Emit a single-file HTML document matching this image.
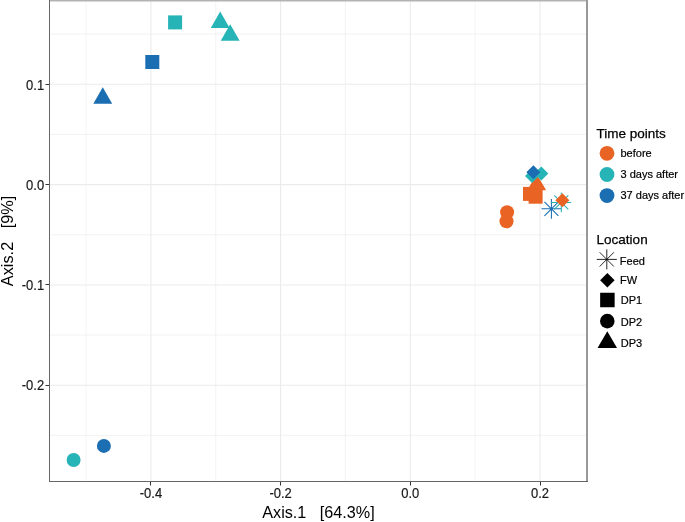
<!DOCTYPE html>
<html><head><meta charset="utf-8"><title>PCoA plot</title>
<style>
html,body{margin:0;padding:0;background:#fff;}
body{width:685px;height:522px;overflow:hidden;}
svg{display:block;}
svg text{font-family:"Liberation Sans",Arial,sans-serif;}
</style></head>
<body>
<svg width="685" height="522" viewBox="0 0 685 522">
<rect x="0" y="0" width="685" height="522" fill="#fff"/>
<line x1="86.05" y1="0.5" x2="86.05" y2="481" stroke="#ebebeb" stroke-width="0.6"/>
<line x1="215.75" y1="0.5" x2="215.75" y2="481" stroke="#ebebeb" stroke-width="0.6"/>
<line x1="345.45" y1="0.5" x2="345.45" y2="481" stroke="#ebebeb" stroke-width="0.6"/>
<line x1="475.15" y1="0.5" x2="475.15" y2="481" stroke="#ebebeb" stroke-width="0.6"/>
<line x1="49" y1="34.11" x2="587" y2="34.11" stroke="#ebebeb" stroke-width="0.6"/>
<line x1="49" y1="134.44" x2="587" y2="134.44" stroke="#ebebeb" stroke-width="0.6"/>
<line x1="49" y1="234.76" x2="587" y2="234.76" stroke="#ebebeb" stroke-width="0.6"/>
<line x1="49" y1="335.09" x2="587" y2="335.09" stroke="#ebebeb" stroke-width="0.6"/>
<line x1="49" y1="435.42" x2="587" y2="435.42" stroke="#ebebeb" stroke-width="0.6"/>
<line x1="150.9" y1="0.5" x2="150.9" y2="481" stroke="#ebebeb" stroke-width="1.1"/>
<line x1="280.6" y1="0.5" x2="280.6" y2="481" stroke="#ebebeb" stroke-width="1.1"/>
<line x1="410.3" y1="0.5" x2="410.3" y2="481" stroke="#ebebeb" stroke-width="1.1"/>
<line x1="540" y1="0.5" x2="540" y2="481" stroke="#ebebeb" stroke-width="1.1"/>
<line x1="49" y1="84.27" x2="587" y2="84.27" stroke="#ebebeb" stroke-width="1.1"/>
<line x1="49" y1="184.6" x2="587" y2="184.6" stroke="#ebebeb" stroke-width="1.1"/>
<line x1="49" y1="284.93" x2="587" y2="284.93" stroke="#ebebeb" stroke-width="1.1"/>
<line x1="49" y1="385.26" x2="587" y2="385.26" stroke="#ebebeb" stroke-width="1.1"/>
<rect x="168.1" y="15.4" width="14" height="14" fill="rgb(38,180,182)"/>
<polygon points="220.2,11.61 229.63,27.94 210.77,27.94" fill="rgb(38,180,182)"/>
<polygon points="230.2,24.31 239.63,40.64 220.77,40.64" fill="rgb(38,180,182)"/>
<circle cx="73.6" cy="460" r="7" fill="rgb(38,180,182)"/>
<rect x="145.3" y="55" width="14" height="14" fill="rgb(27,110,178)"/>
<polygon points="102.75,87.31 112.18,103.64 93.32,103.64" fill="rgb(27,110,178)"/>
<circle cx="103.9" cy="445.9" r="7" fill="rgb(27,110,178)"/>
<circle cx="507.1" cy="212.2" r="7" fill="rgb(233,100,36)"/>
<circle cx="506.5" cy="221.3" r="7" fill="rgb(233,100,36)"/>
<polygon points="536.7,173.91 546.13,190.24 527.27,190.24" fill="rgb(233,100,36)"/>
<rect x="523" y="186.9" width="14" height="14" fill="rgb(233,100,36)"/>
<rect x="528.6" y="189.7" width="14" height="14" fill="rgb(233,100,36)"/>
<polygon points="541.3,166.4 548.3,173.4 541.3,180.4 534.3,173.4" fill="rgb(38,180,182)"/>
<polygon points="532,169 539,176 532,183 525,176" fill="rgb(38,180,182)"/>
<polygon points="533.4,165.3 540.4,172.3 533.4,179.3 526.4,172.3" fill="rgb(27,110,178)"/>
<path d="M544.4,201.8L558.4,215.8M544.4,215.8L558.4,201.8M541.5,208.8L561.3,208.8M551.4,198.9L551.4,218.7" stroke="rgb(27,110,178)" stroke-width="1.05" fill="none"/>
<path d="M554.3,195.4L568.3,209.4M554.3,209.4L568.3,195.4M551.4,202.4L571.2,202.4M561.3,192.5L561.3,212.3" stroke="rgb(38,180,182)" stroke-width="1.05" fill="none"/>
<polygon points="562.4,193.3 569.4,200.3 562.4,207.3 555.4,200.3" fill="rgb(233,100,36)"/>
<line x1="49" y1="0.75" x2="588" y2="0.75" stroke="#b3b3b3" stroke-width="1.5"/>
<line x1="587" y1="0" x2="587" y2="482" stroke="#999" stroke-width="2"/>
<line x1="49.5" y1="0" x2="49.5" y2="481.5" stroke="#666" stroke-width="1"/>
<line x1="49" y1="481.5" x2="588" y2="481.5" stroke="#666" stroke-width="1"/>
<line x1="150.5" y1="482" x2="150.5" y2="485.5" stroke="#333" stroke-width="1"/>
<line x1="280.5" y1="482" x2="280.5" y2="485.5" stroke="#333" stroke-width="1"/>
<line x1="410.5" y1="482" x2="410.5" y2="485.5" stroke="#333" stroke-width="1"/>
<line x1="540.5" y1="482" x2="540.5" y2="485.5" stroke="#333" stroke-width="1"/>
<line x1="45.5" y1="84.5" x2="49" y2="84.5" stroke="#333" stroke-width="1"/>
<line x1="45.5" y1="184.5" x2="49" y2="184.5" stroke="#333" stroke-width="1"/>
<line x1="45.5" y1="284.5" x2="49" y2="284.5" stroke="#333" stroke-width="1"/>
<line x1="45.5" y1="385.5" x2="49" y2="385.5" stroke="#333" stroke-width="1"/>
<text transform="translate(150.9,498) scale(0.93,1.0)" text-anchor="middle" font-size="14" fill="#1a1a1a" stroke="#1a1a1a" stroke-width="0.2">-0.4</text>
<text transform="translate(280.6,498) scale(0.93,1.0)" text-anchor="middle" font-size="14" fill="#1a1a1a" stroke="#1a1a1a" stroke-width="0.2">-0.2</text>
<text transform="translate(410.3,498) scale(0.93,1.0)" text-anchor="middle" font-size="14" fill="#1a1a1a" stroke="#1a1a1a" stroke-width="0.2">0.0</text>
<text transform="translate(540,498) scale(0.93,1.0)" text-anchor="middle" font-size="14" fill="#1a1a1a" stroke="#1a1a1a" stroke-width="0.2">0.2</text>
<text transform="translate(44.2,90) scale(0.93,1.0)" text-anchor="end" font-size="14" fill="#1a1a1a" stroke="#1a1a1a" stroke-width="0.2">0.1</text>
<text transform="translate(44.2,190) scale(0.93,1.0)" text-anchor="end" font-size="14" fill="#1a1a1a" stroke="#1a1a1a" stroke-width="0.2">0.0</text>
<text transform="translate(44.2,290) scale(0.93,1.0)" text-anchor="end" font-size="14" fill="#1a1a1a" stroke="#1a1a1a" stroke-width="0.2">-0.1</text>
<text transform="translate(44.2,390) scale(0.93,1.0)" text-anchor="end" font-size="14" fill="#1a1a1a" stroke="#1a1a1a" stroke-width="0.2">-0.2</text>
<text x="318.5" y="518.3" text-anchor="middle" font-size="16.2" fill="#000" xml:space="preserve">Axis.1   [64.3%]</text>
<text transform="translate(13.4,240.9) rotate(-90)" x="0" y="0" text-anchor="middle" font-size="16.3" fill="#000" xml:space="preserve">Axis.2   [9%]</text>
<text x="596.6" y="138" font-size="13.5" fill="#000" stroke="#000" stroke-width="0.25">Time points</text>
<circle cx="607" cy="153.3" r="7.4" fill="rgb(233,100,36)"/>
<text x="620.5" y="157.4" font-size="11" fill="#000" stroke="#000" stroke-width="0.2">before</text>
<circle cx="607" cy="174.5" r="7.4" fill="rgb(38,180,182)"/>
<text x="620.5" y="177.7" font-size="11" fill="#000" stroke="#000" stroke-width="0.2">3 days after</text>
<circle cx="607" cy="195.6" r="7.4" fill="rgb(27,110,178)"/>
<text x="620.5" y="198.9" font-size="11" fill="#000" stroke="#000" stroke-width="0.2">37 days after</text>
<text x="596.6" y="243.6" font-size="13.5" fill="#000" stroke="#000" stroke-width="0.25">Location</text>
<path d="M599.7,252.3L613.9,266.5M599.7,266.5L613.9,252.3M596.76,259.4L616.84,259.4M606.8,249.36L606.8,269.44" stroke="#000" stroke-width="0.85" fill="none"/>
<polygon points="607.4,272.95 614.65,280.2 607.4,287.45 600.15,280.2" fill="#000"/>
<rect x="600.15" y="292.75" width="14.5" height="14.5" fill="#000"/>
<circle cx="607.3" cy="321.1" r="7.3" fill="#000"/>
<polygon points="607.3,331.13 617.06,348.04 597.54,348.04" fill="#000"/>
<text x="619.8" y="265.3" font-size="11" fill="#000" stroke="#000" stroke-width="0.2">Feed</text>
<text x="620" y="284" font-size="11" fill="#000" stroke="#000" stroke-width="0.2">FW</text>
<text x="620.8" y="304.3" font-size="11" fill="#000" stroke="#000" stroke-width="0.2">DP1</text>
<text x="620.8" y="326" font-size="11" fill="#000" stroke="#000" stroke-width="0.2">DP2</text>
<text x="620.8" y="346.6" font-size="11" fill="#000" stroke="#000" stroke-width="0.2">DP3</text>
</svg>
</body></html>
